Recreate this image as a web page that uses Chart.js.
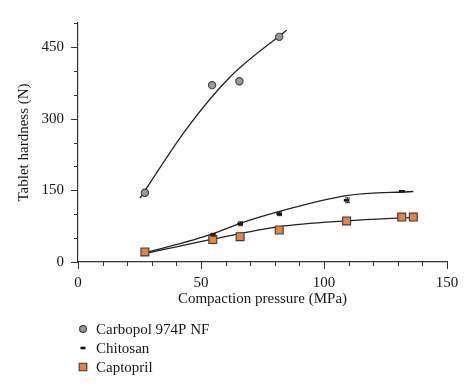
<!DOCTYPE html>
<html>
<head>
<meta charset="utf-8">
<script src="https://cdn.jsdelivr.net/npm/chart.js@4.4.0/dist/chart.umd.min.js"></script>
<style>
  html, body { margin: 0; padding: 0; background: #fff; }
  #wrap { width: 474px; height: 392px; position: relative; }
</style>
</head>
<body>
<div id="wrap"><canvas id="chart"></canvas></div>
<script>
// data ========================================================================
const carbopolX = [27.2, 54.5, 65.6, 81.8];
const carbopolY = [145, 370, 378, 471];

const chitosanX = [27.2, 54.8, 65.9, 81.8, 109.2, 131.6];
const chitosanY = [20, 57, 80, 101, 129, 148];
const chitosanErr = [2, 3, 4, 4, 5, 1];

const captoprilX = [27.2, 54.8, 65.9, 81.8, 109.2, 131.6, 136.3];
const captoprilY = [21, 47, 53, 67, 86, 94, 94];

// fitted curves, points
const carbopolFitX = [25.2, 44.2, 61.8, 84.8];
const carbopolFitY = [133.6, 279, 387, 484.8];

const chitosanFitX = [26.6, 54.8, 65.9, 82, 109.2, 136.3];
const chitosanFitY = [18, 59, 81, 106, 139, 147.5];

const captoprilFitX = [26.6, 54.8, 82, 109.2, 136.3];
const captoprilFitY = [17, 48, 74, 86, 93.5];

const legendLabels = ["Carbopol 974P NF", "Chitosan", "Captopril"];

const xTicks = [0, 50, 100, 150];
const yTicks = [0, 150, 300, 450];

// ============================================================================
const FONT = "'Liberation Serif', 'Times New Roman', serif";
const INK = "#333";
const TEXT = "#161616";

const toXY = (xs, ys) => xs.map((x, i) => ({ x: x, y: ys[i] }));

const fitLine = (xs, ys) => ({
  data: toXY(xs, ys),
  showLine: true,
  pointRadius: 0,
  borderColor: "#222",
  borderWidth: 1.3,
  cubicInterpolationMode: "monotone",
  fill: false,
  order: 10,
});

// chart.js has no minor ticks, so all tick marks are drawn here
const tickPlugin = {
  id: "tickMarks",
  afterDraw(chart) {
    const ctx = chart.ctx;
    const xs = chart.scales.x;
    const ys = chart.scales.y;
    ctx.save();
    ctx.strokeStyle = INK;
    ctx.lineWidth = 1;
    ctx.beginPath();
    for (let v = 0; v <= 150; v += 10) {
      const px = Math.round(xs.getPixelForValue(v)) + 0.5;
      const len = xTicks.includes(v) ? 7 : 4;
      ctx.moveTo(px, ys.bottom);
      ctx.lineTo(px, ys.bottom + len);
    }
    for (let v = 0; v <= 500; v += 50) {
      const py = Math.round(ys.getPixelForValue(v)) + 0.5;
      const len = yTicks.includes(v) ? 7 : 4;
      ctx.moveTo(xs.left, py);
      ctx.lineTo(xs.left - len, py);
    }
    ctx.stroke();
    ctx.restore();
  },
};

// error bars for chitosan
const errorPlugin = {
  id: "errorBars",
  afterDatasetsDraw(chart) {
    const ctx = chart.ctx;
    const xs = chart.scales.x;
    const ys = chart.scales.y;
    ctx.save();
    ctx.strokeStyle = "#222";
    ctx.lineWidth = 1;
    ctx.beginPath();
    chitosanX.forEach((x, i) => {
      if (i === 0) return; // hidden under the square
      const px = Math.round(xs.getPixelForValue(x)) + 0.5;
      const top = ys.getPixelForValue(chitosanY[i] + chitosanErr[i]);
      const bot = ys.getPixelForValue(chitosanY[i] - chitosanErr[i]);
      ctx.moveTo(px, top);
      ctx.lineTo(px, bot);
      ctx.moveTo(px - 2.5, top);
      ctx.lineTo(px + 2.5, top);
      ctx.moveTo(px - 2.5, bot);
      ctx.lineTo(px + 2.5, bot);
    });
    ctx.stroke();
    ctx.restore();
  },
};

// legend stacked one item per row under the x axis title
const legendPlugin = {
  id: "stackedLegend",
  afterDraw(chart) {
    const ctx = chart.ctx;
    const x0 = chart.chartArea.left + 5;
    const y0 = chart.height - 63;
    ctx.save();
    ctx.font = "15px " + FONT;
    ctx.textBaseline = "middle";
    legendLabels.forEach((label, i) => {
      const ds = chart.data.datasets[i];
      const y = y0 + i * 19;
      ctx.fillStyle = ds.pointBackgroundColor;
      ctx.strokeStyle = ds.pointBorderColor;
      ctx.lineWidth = ds.pointBorderWidth;
      Chart.helpers.drawPoint(ctx, {
        pointStyle: ds.pointStyle,
        radius: ds.legendRadius,
        rotation: 0,
        borderWidth: ds.pointBorderWidth,
      }, x0, y);
      ctx.fillStyle = TEXT;
      ctx.fillText(label, x0 + 13, y + 1);
    });
    ctx.restore();
  },
};

new Chart(document.getElementById("chart"), {
  type: "scatter",
  data: {
    datasets: [
      {
        label: legendLabels[0],
        data: toXY(carbopolX, carbopolY),
        pointStyle: "circle",
        pointRadius: 3.6,
        legendRadius: 3.4,
        pointBackgroundColor: "#9a9a9a",
        pointBorderColor: "#444",
        pointBorderWidth: 1.2,
        order: 1,
      },
      {
        label: legendLabels[1],
        data: toXY(chitosanX, chitosanY),
        pointStyle: "line",
        pointRadius: 2.8,
        legendRadius: 2.5,
        pointBackgroundColor: "#111",
        pointBorderColor: "#111",
        pointBorderWidth: 2.6,
        order: 2,
      },
      {
        label: legendLabels[2],
        data: toXY(captoprilX, captoprilY),
        pointStyle: "rect",
        pointRadius: 5.6,
        legendRadius: 5.4,
        pointBackgroundColor: "#e5843f",
        pointBorderColor: "#3a3a3a",
        pointBorderWidth: 1.1,
        order: 0,
      },
      fitLine(carbopolFitX, carbopolFitY),
      fitLine(chitosanFitX, chitosanFitY),
      fitLine(captoprilFitX, captoprilFitY),
    ],
  },
  options: {
    responsive: true,
    maintainAspectRatio: false,
    animation: false,
    events: [],
    layout: { padding: { top: 17, right: 27, left: 0, bottom: 80 } },
    plugins: {
      legend: { display: false },
      tooltip: { enabled: false },
    },
    scales: {
      x: {
        type: "linear",
        min: 0,
        max: 150,
        afterFit: (scale) => { scale.height = 50; },
        afterBuildTicks: (scale) => { scale.ticks = xTicks.map((v) => ({ value: v })); },
        grid: { display: false, drawTicks: false },
        border: { display: true, color: INK, width: 1.2 },
        ticks: { color: TEXT, padding: 12, maxRotation: 0, font: { family: FONT, size: 15 } },
        title: {
          display: true,
          text: "Compaction pressure (MPa)",
          color: TEXT,
          padding: { top: 4, bottom: 4 },
          font: { family: FONT, size: 15 },
        },
      },
      y: {
        type: "linear",
        min: 0,
        max: 500,
        afterFit: (scale) => { scale.width = 78; },
        afterBuildTicks: (scale) => { scale.ticks = yTicks.map((v) => ({ value: v })); },
        grid: { display: false, drawTicks: false },
        border: { display: true, color: INK, width: 1.2 },
        ticks: { color: TEXT, padding: 14, font: { family: FONT, size: 15 } },
        title: {
          display: true,
          text: "Tablet hardness (N)",
          color: TEXT,
          padding: { top: 15, bottom: 4 },
          font: { family: FONT, size: 15 },
        },
      },
    },
  },
  plugins: [tickPlugin, errorPlugin, legendPlugin],
});
</script>
</body>
</html>
